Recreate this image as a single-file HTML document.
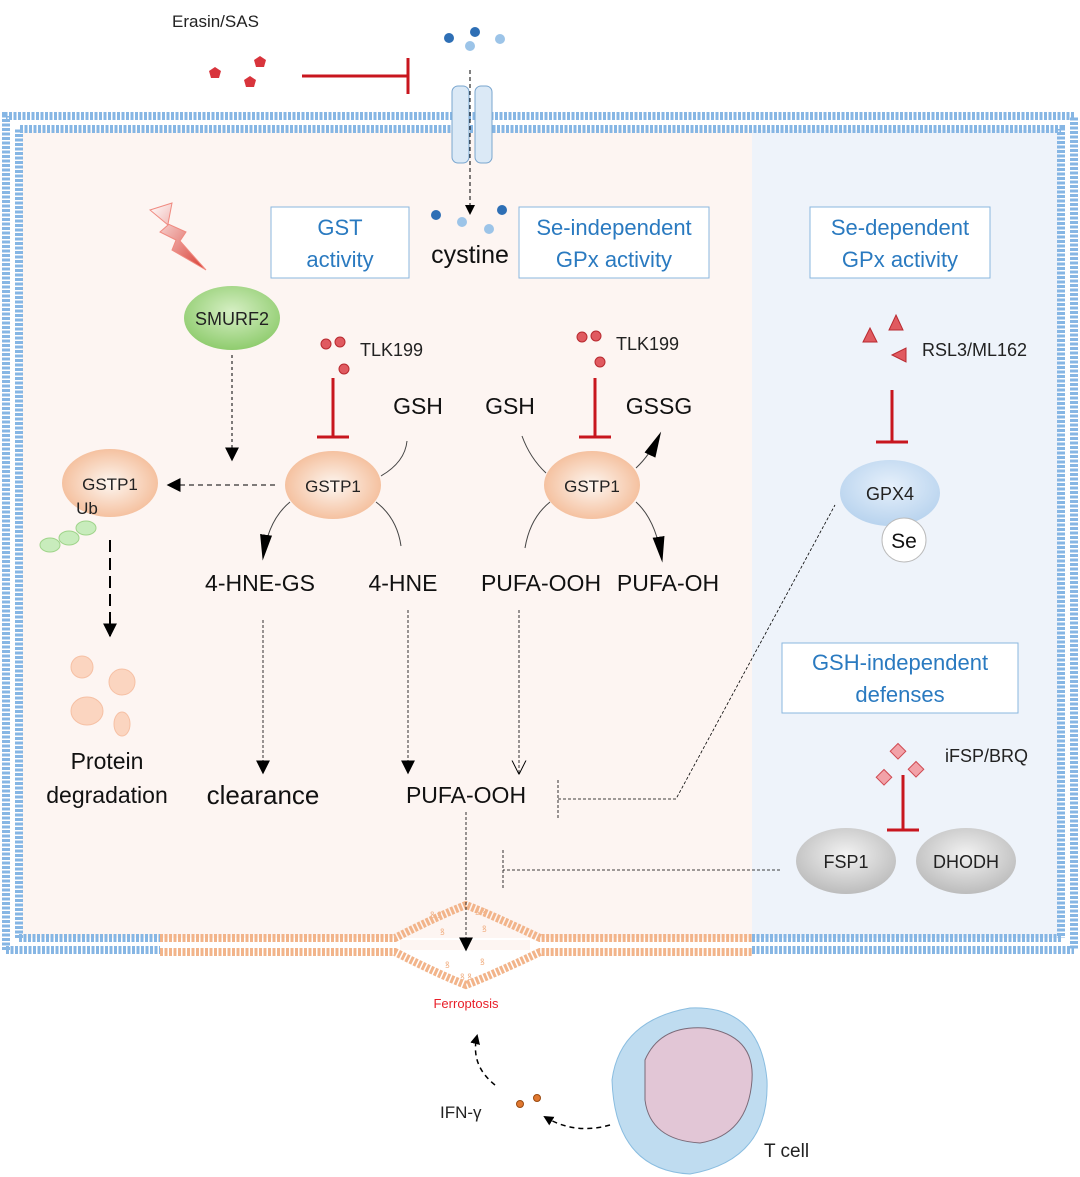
<!DOCTYPE html>
<html><head><meta charset="utf-8"><style>
body{margin:0;background:#fff}
svg{display:block;font-family:"Liberation Sans",sans-serif}
</style></head><body>
<svg width="1080" height="1177" viewBox="0 0 1080 1177" xmlns="http://www.w3.org/2000/svg">
<defs>
<marker id="af" markerWidth="10" markerHeight="10" refX="8" refY="5" orient="auto" markerUnits="userSpaceOnUse"><path d="M0,0 L10,5 L0,10z" fill="#000"/></marker>
<marker id="ab" viewBox="0 0 10 10" markerWidth="14" markerHeight="20" refX="9" refY="5" orient="auto" markerUnits="userSpaceOnUse"><path d="M0,0 L10,5 L0,10z" fill="#000"/></marker>
<marker id="an" viewBox="0 0 10 10" markerWidth="26" markerHeight="12" refX="9" refY="5" orient="auto" markerUnits="userSpaceOnUse" preserveAspectRatio="none"><path d="M0,0 L10,5 L0,10z" fill="#000"/></marker>
<marker id="ao" viewBox="0 0 10 10" markerWidth="14" markerHeight="20" refX="9" refY="5" orient="auto" markerUnits="userSpaceOnUse"><path d="M0,0 L10,5 L0,10" fill="none" stroke="#000" stroke-width="0.7"/></marker>
<radialGradient id="gor" cx="0.5" cy="0.5" r="0.55"><stop offset="0" stop-color="#fdf6f0"/><stop offset="1" stop-color="#f4bc98"/></radialGradient>
<radialGradient id="ggr" cx="0.5" cy="0.4" r="0.6"><stop offset="0" stop-color="#d6efc4"/><stop offset="1" stop-color="#8fcc6e"/></radialGradient>
<radialGradient id="ggy" cx="0.5" cy="0.4" r="0.6"><stop offset="0" stop-color="#f2f2f2"/><stop offset="1" stop-color="#bcbcbc"/></radialGradient>
<radialGradient id="gbl" cx="0.5" cy="0.4" r="0.6"><stop offset="0" stop-color="#e6f0fb"/><stop offset="1" stop-color="#b8d3ee"/></radialGradient>
<linearGradient id="gl" x1="0" y1="0" x2="1" y2="1"><stop offset="0" stop-color="#fff"/><stop offset="1" stop-color="#d83a30"/></linearGradient>
</defs>
<rect x="22" y="130" width="730" height="808" fill="#fdf5f2"/>
<rect x="752" y="130" width="308" height="808" fill="#eef3fa"/>
<g fill="none" stroke="#86b6e4" stroke-width="8" stroke-dasharray="3 1.5">
<path d="M6,950 V116 H1074 V950"/>
<path d="M19,938 V129 H1061 V938"/>
</g>
<g fill="none" stroke="#86b6e4" stroke-width="8" stroke-dasharray="3 1.5">
<path d="M6,950 H160"/><path d="M19,938 H160"/>
<path d="M752,950 H1074"/><path d="M752,938 H1061"/>
</g>
<g fill="none" stroke="#f2b48a" stroke-width="8" stroke-dasharray="3 1.5">
<path d="M160,938 H395 Q440,915 466,905 Q492,915 540,938 H752"/>
<path d="M160,952 H395 Q440,975 466,985 Q492,975 540,952 H752"/>
</g>
<rect x="400" y="940" width="130" height="10" fill="#fdf5f2"/>
<g fill="#f2b48a" font-size="9"><text x="430" y="918">ꝸ ꝸ</text><text x="475" y="915">ꝸ ꝸ</text><text x="440" y="935">ꝸ</text><text x="482" y="932">ꝸ</text><text x="445" y="968">ꝸ</text><text x="480" y="965">ꝸ</text><text x="460" y="980">ꝸ ꝸ</text></g>
<rect x="452" y="86" width="17" height="77" rx="6" fill="#dbe9f6" stroke="#7aa6cf"/>
<rect x="475" y="86" width="17" height="77" rx="6" fill="#dbe9f6" stroke="#7aa6cf"/>
<line x1="470" y1="70" x2="470" y2="213" stroke="#000" stroke-dasharray="4 3" marker-end="url(#af)"/>
<text x="172" y="27" font-size="17" fill="#222">Erasin/SAS</text>
<g fill="#d8343c"><polygon points="215,67 221,71 219,78 211,78 209,71"/><polygon points="260,56 266,60 264,67 256,67 254,60"/><polygon points="250,76 256,80 254,87 246,87 244,80"/></g>
<path d="M302,76 H408 M408,58 V94" stroke="#c8161e" stroke-width="3" fill="none"/>
<g><circle cx="449" cy="38" r="5" fill="#2e6fb5"/><circle cx="475" cy="32" r="5" fill="#2e6fb5"/><circle cx="470" cy="46" r="5" fill="#9cc4e8"/><circle cx="500" cy="39" r="5" fill="#9cc4e8"/></g>
<g><circle cx="436" cy="215" r="5" fill="#2e6fb5"/><circle cx="462" cy="222" r="5" fill="#9cc4e8"/><circle cx="489" cy="229" r="5" fill="#9cc4e8"/><circle cx="502" cy="210" r="5" fill="#2e6fb5"/></g>
<text x="470" y="263" font-size="25" text-anchor="middle" fill="#111">cystine</text>
<g fill="#fff" stroke="#8ab7df"><rect x="271" y="207" width="138" height="71"/><rect x="519" y="207" width="190" height="71"/><rect x="810" y="207" width="180" height="71"/><rect x="782" y="643" width="236" height="70"/></g>
<g fill="#2a7ac0" font-size="22" text-anchor="middle">
<text x="340" y="235">GST</text><text x="340" y="267">activity</text>
<text x="614" y="235">Se-independent</text><text x="614" y="267">GPx  activity</text>
<text x="900" y="235">Se-dependent</text><text x="900" y="267">GPx  activity</text>
<text x="900" y="670">GSH-independent</text><text x="900" y="702">defenses</text>
</g>
<polygon points="150,210 172,203 168,224 186,232 180,241 206,270 172,250 176,240 160,232 168,225" fill="url(#gl)" stroke="#f08a80"/>
<ellipse cx="232" cy="318" rx="48" ry="32" fill="url(#ggr)"/>
<text x="232" y="325" font-size="18" text-anchor="middle" fill="#222">SMURF2</text>
<line x1="232" y1="355" x2="232" y2="460" stroke="#000" stroke-dasharray="3 3" marker-end="url(#ab)"/>
<ellipse cx="110" cy="483" rx="48" ry="34" fill="url(#gor)"/>
<text x="110" y="490" font-size="17" text-anchor="middle" fill="#222">GSTP1</text>
<text x="87" y="514" font-size="17" text-anchor="middle" fill="#222">Ub</text>
<g fill="#c8ecbc" stroke="#9fd48a"><ellipse cx="50" cy="545" rx="10" ry="7"/><ellipse cx="69" cy="538" rx="10" ry="7"/><ellipse cx="86" cy="528" rx="10" ry="7"/></g>
<line x1="275" y1="485" x2="168" y2="485" stroke="#000" stroke-dasharray="5 4" marker-end="url(#ab)"/>
<!-- curves -->
<g fill="none" stroke="#444" stroke-width="1">
<path d="M407,441 Q405,462 381,476"/>
<path d="M290,502 Q268,520 263,558" marker-end="url(#an)"/>
<path d="M376,502 Q397,518 401,546"/>
<path d="M522,436 Q530,458 546,473"/>
<path d="M636,468 Q650,455 660,434" marker-end="url(#an)"/>
<path d="M550,502 Q530,518 525,548"/>
<path d="M636,502 Q656,520 662,560" marker-end="url(#an)"/>
</g>
<ellipse cx="333" cy="485" rx="48" ry="34" fill="url(#gor)"/>
<text x="333" y="492" font-size="17" text-anchor="middle" fill="#222">GSTP1</text>
<ellipse cx="592" cy="485" rx="48" ry="34" fill="url(#gor)"/>
<text x="592" y="492" font-size="17" text-anchor="middle" fill="#222">GSTP1</text>
<g fill="#e05a60" stroke="#b82a30"><circle cx="326" cy="344" r="5"/><circle cx="340" cy="342" r="5"/><circle cx="344" cy="369" r="5"/><circle cx="582" cy="337" r="5"/><circle cx="596" cy="336" r="5"/><circle cx="600" cy="362" r="5"/></g>
<text x="360" y="356" font-size="18" fill="#222">TLK199</text>
<text x="616" y="350" font-size="18" fill="#222">TLK199</text>
<path d="M333,378 V437 M317,437 H349 M595,378 V437 M579,437 H611" stroke="#c8161e" stroke-width="3" fill="none"/>
<g font-size="23" fill="#111" text-anchor="middle">
<text x="418" y="414">GSH</text><text x="510" y="414">GSH</text><text x="659" y="414">GSSG</text>
<text x="260" y="591">4-HNE-GS</text><text x="403" y="591">4-HNE</text><text x="541" y="591">PUFA-OOH</text><text x="668" y="591">PUFA-OH</text>
<text x="107" y="769">Protein</text><text x="107" y="803">degradation</text>
<text x="263" y="804" font-size="26">clearance</text><text x="466" y="803">PUFA-OOH</text>
</g>
<g stroke="#000" stroke-width="0.8" stroke-dasharray="3 2" fill="none">
<line x1="263" y1="620" x2="263" y2="773" marker-end="url(#ab)"/>
<line x1="408" y1="610" x2="408" y2="773" marker-end="url(#ab)"/>
<line x1="519" y1="610" x2="519" y2="773" marker-end="url(#ao)"/>
<line x1="466" y1="812" x2="466" y2="950" marker-end="url(#ab)"/>
<path d="M558,799 H676 L835,505"/>
<path d="M780,870 H503"/>
<line x1="558" y1="780" x2="558" y2="818"/><line x1="503" y1="850" x2="503" y2="890"/>
</g>
<line x1="110" y1="540" x2="110" y2="636" stroke="#000" stroke-width="2" stroke-dasharray="12 6" marker-end="url(#ab)"/>
<g fill="#fbd5c0" stroke="#f6c0a4"><circle cx="82" cy="667" r="11"/><circle cx="122" cy="682" r="13"/><ellipse cx="87" cy="711" rx="16" ry="14"/><ellipse cx="122" cy="724" rx="8" ry="12"/></g>
<g fill="#e05a60" stroke="#b82a30"><polygon points="870,328 877,342 863,342"/><polygon points="896,315 903,330 889,330"/><polygon points="892,355 906,348 906,362"/></g>
<text x="922" y="356" font-size="18" fill="#222">RSL3/ML162</text>
<path d="M892,390 V442 M876,442 H908 M903,775 V830 M887,830 H919" stroke="#c8161e" stroke-width="3" fill="none"/>
<ellipse cx="890" cy="493" rx="50" ry="33" fill="url(#gbl)"/>
<text x="890" y="500" font-size="18" text-anchor="middle" fill="#222">GPX4</text>
<circle cx="904" cy="540" r="22" fill="#fff" stroke="#bbb"/>
<text x="904" y="548" font-size="21" text-anchor="middle" fill="#111">Se</text>
<g fill="#f2a2a8" stroke="#d04a52"><rect x="892" y="746" width="11" height="11" transform="rotate(45 898 752)"/><rect x="878" y="772" width="11" height="11" transform="rotate(45 884 778)"/><rect x="910" y="764" width="11" height="11" transform="rotate(45 916 770)"/></g>
<text x="945" y="762" font-size="18" fill="#222">iFSP/BRQ</text>
<ellipse cx="846" cy="861" rx="50" ry="33" fill="url(#ggy)"/>
<text x="846" y="868" font-size="18" text-anchor="middle" fill="#222">FSP1</text>
<ellipse cx="966" cy="861" rx="50" ry="33" fill="url(#ggy)"/>
<text x="966" y="868" font-size="18" text-anchor="middle" fill="#222">DHODH</text>
<text x="466" y="1008" font-size="13" text-anchor="middle" fill="#e8202a">Ferroptosis</text>
<text x="440" y="1118" font-size="17" fill="#222">IFN-γ</text>
<g fill="#e07830" stroke="#9a4a10"><circle cx="520" cy="1104" r="3.5"/><circle cx="537" cy="1098" r="3.5"/><circle cx="625" cy="1106" r="3.5"/><circle cx="638" cy="1109" r="3.5"/><circle cx="634" cy="1120" r="3.5"/></g>
<path d="M495,1085 Q470,1065 477,1036" fill="none" stroke="#000" stroke-width="1.5" stroke-dasharray="5 4" marker-end="url(#af)"/>
<path d="M610,1125 Q575,1135 545,1117" fill="none" stroke="#000" stroke-width="1.5" stroke-dasharray="5 4" marker-end="url(#af)"/>
<path d="M612,1080 Q620,1020 690,1008 Q760,1005 767,1080 Q770,1160 690,1174 Q615,1170 612,1080z" fill="#bfdcf0" stroke="#8abde0"/>
<path d="M645,1060 Q660,1025 705,1028 Q755,1035 752,1080 Q748,1135 700,1143 Q650,1140 645,1100z" fill="#e2c6d6" stroke="#7a6a78"/>
<text x="764" y="1157" font-size="19" fill="#222">T cell</text>
</svg>
</body></html>
